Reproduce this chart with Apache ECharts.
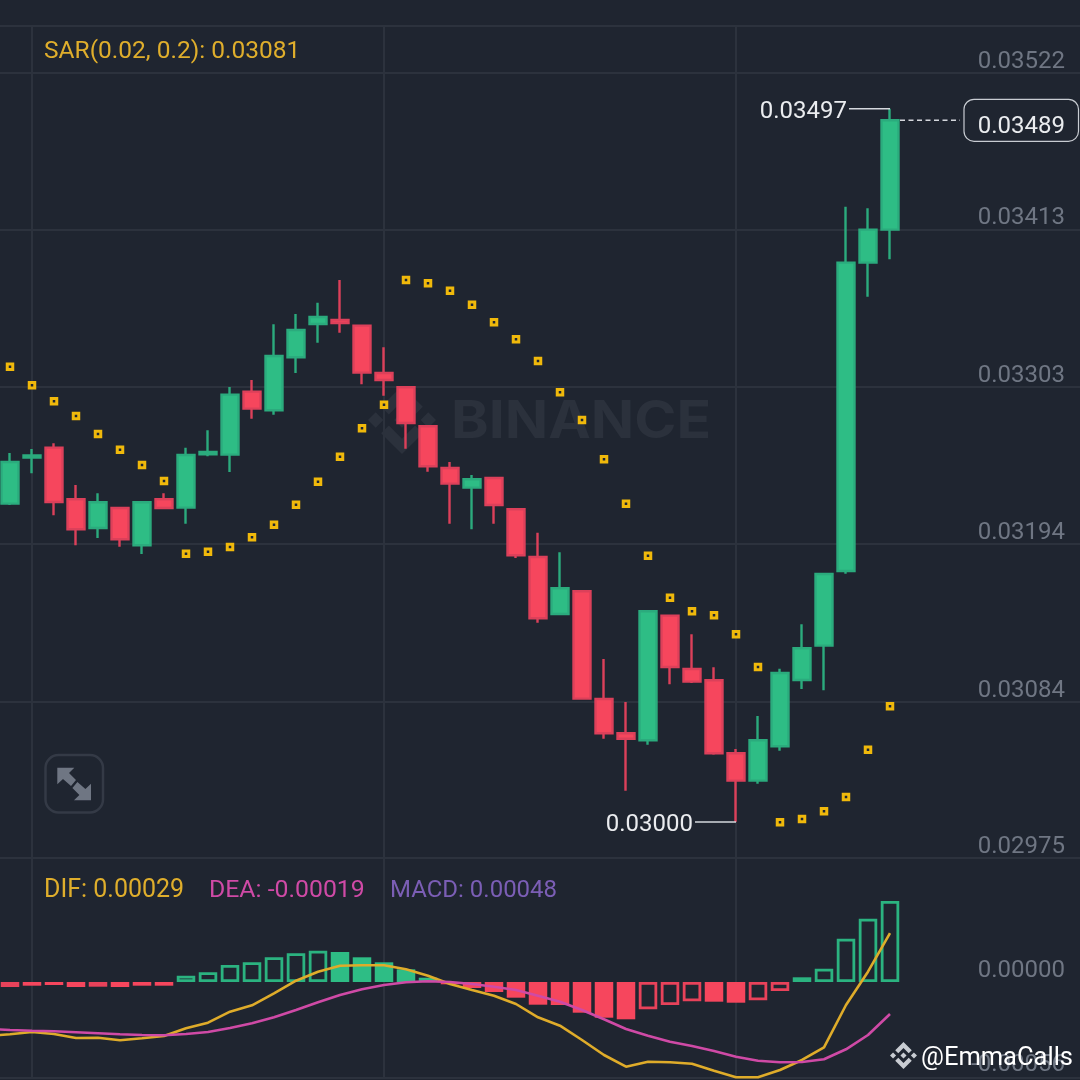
<!DOCTYPE html>
<html><head><meta charset="utf-8">
<style>html,body{margin:0;padding:0;background:#1f2530}#c{width:1080px;height:1080px}</style>
<script src="https://cdn.jsdelivr.net/npm/echarts@6/dist/echarts.min.js"></script>
</head><body><div id="c"></div>
<script>
const opens  = [.0322189,.0325395,.0326091,.0322496,.0320496,.0321890,.0319291,.0322496,.0321910,.0325631,.0325604,.0329993,.0328697,.0332390,.0334711,.0334989,.0334592,.0331296,.0330300,.0327582,.0324677,.0323304,.0323980,.0321799,.0318475,.0314503,.0316085,.0308581,.0306191,.0305703,.0314385,.0310671,.0309884,.0304797,.0302888,.0305285,.0309905,.0312295,.0317500,.0338982,.0341281];
const closes = [.0325095,.0325548,.0322308,.0320405,.0322287,.0319709,.0322287,.0321890,.0325583,.0325792,.0329784,.0328809,.0332481,.0334293,.0335198,.0334780,.0331317,.0330809,.0327812,.0324795,.0323582,.0323889,.0322099,.0318594,.0314204,.0316294,.0308602,.0306191,.0305814,.0314692,.0310810,.0309786,.0304797,.0302888,.0305703,.0310392,.0312114,.0317291,.0338982,.0341281,.0348900];
const lows   = [.0322099,.0324308,.0321381,.0319291,.0319799,.0319193,.0318684,.0321890,.0320796,.0325492,.0324398,.0328112,.0328391,.0331296,.0333408,.0334104,.0330509,.0329715,.0326022,.0324419,.0320796,.0320405,.0320796,.0318406,.0313897,.0314503,.0308581,.0305814,.0302191,.0305396,.0309605,.0309696,.0304700,.0300000,.0302679,.0304978,.0309277,.0309187,.0317312,.0336613,.0339219];
const highs  = [.0325722,.0326001,.0326398,.0323492,.0322914,.0321910,.0322377,.0322914,.0326091,.0327304,.0330321,.0330809,.0334690,.0335407,.0336195,.0337777,.0334641,.0333087,.0330321,.0327603,.0325095,.0324189,.0323980,.0321820,.0320168,.0318803,.0316106,.0311368,.0308372,.0314713,.0314434,.0313089,.0310789,.0305097,.0307396,.0310692,.0313786,.0317381,.0342884,.0342773,.0349700];
const sarValues = [.0331735,.0330439,.0329324,.0328300,.0327046,.0325952,.0324886,.0323771,.0318705,.0318845,.0319172,.0319848,.0320726,.0322120,.0323722,.0325464,.0327443,.0329087,.0337777,.0337547,.0337031,.0336055,.0334829,.0333645,.0332133,.0329952,.0328021,.0325283,.0322189,.0318566,.0315639,.0314692,.0314413,.0313089,.0310810,.0299989,.0300219,.0300756,.0301752,.0305048,.0308072];
const macdValues = [-.0000296,-.0000219,-.0000178,-.0000296,-.0000279,-.0000296,-.0000219,-.0000219,.0000373,.0000575,.0001007,.0001167,.0001464,.0001701,.0001855,.0001778,.0001464,.0001167,.0000753,.0000255,-.0000136,-.0000356,-.0000593,-.0000930,-.0001345,-.0001363,-.0001819,-.0002116,-.0002210,-.0001618,-.0001363,-.0001144,-.0001167,-.0001227,-.0001084,-.0000533,.0000279,.0000788,.0002566,.0003751,.0004800];
const macdHollow = [1,0,0,0,1,0,0,0,1,1,1,1,1,1,1,0,0,0,0,0,0,0,0,0,0,0,0,0,0,1,1,1,0,0,1,1,1,1,1,1,1];
// DIF and DEA start one bar before the first visible candle, so the lines reach the left edge
const difValues = [-.000320,-.0003099,-.0002963,-.0003082,-.0003319,-.0003301,-.0003455,-.0003336,-.0003200,-.0002744,-.0002412,-.0001760,-.0001381,-.0000670,.0000077,.0000610,.0000966,.0000990,.0000990,.0000753,.0000373,-.0000119,-.0000474,-.0000812,-.0001304,-.0002092,-.0002590,-.0003437,-.0004326,-.0005019,-.0004723,-.0004759,-.0004841,-.0005256,-.0005647,-.0005647,-.0005215,-.0004622,-.0003870,-.0001363,.0000610,.0002900];
const deaValues = [-.0002785,-.0002844,-.0002886,-.0002922,-.0002981,-.0003040,-.0003099,-.0003141,-.0003159,-.0003082,-.0002963,-.0002726,-.0002447,-.0002092,-.0001659,-.0001203,-.0000770,-.0000433,-.0000178,-.0000018,.0000041,0,-.0000119,-.0000279,-.0000474,-.0000812,-.0001167,-.0001659,-.0002210,-.0002785,-.0003182,-.0003538,-.0003793,-.0004089,-.0004427,-.0004664,-.0004759,-.0004741,-.0004581,-.0003988,-.0003141,-.0001900];
const priceTicks = [0.03522,0.03413,0.03303,0.03194,0.03084,0.02975];
const priceRange = [0.02975,0.035547];
const macdTicks = [0,-0.00056];
const macdRange = [-0.000569,0.000735];
const extremes = [[41,0.03497,'0.03497'],[34,0.03000,'0.03000']];
const lastPrice = [[41,0.03489,'0.03489']];
const legendSar = 'SAR(0.02, 0.2): 0.03081';
const legendDif = 'DIF: 0.00029';
const legendDea = 'DEA: -0.00019';
const legendMacd = 'MACD: 0.00048';
const watermarkName = 'BINANCE';
const handle = '@EmmaCalls';
const categories = Array.from({length:51},(_,i)=>String(i));
const verticalLineIndex = [2,18,34];

const BG='#1f2530', GRID='#2c323d', TICK='#6f7683', GREEN='#2ebd85', RED='#f6465d';
const FONT='Roboto';
const logoPath='M16.624 13.9202l2.7175 2.7154-7.353 7.3509-7.353-7.3508 2.7175-2.7164 4.6355 4.6595 4.6356-4.6576zm4.6366-4.6366L24 12l-2.7154 2.7164L18.5682 12l2.6924-2.7164zm-9.272.001l2.7163 2.6914-2.7164 2.7174v-.001L9.2721 12l2.7164-2.7154zm-9.2722-.001L5.4088 12l-2.6914 2.6924L0 12l2.7164-2.7164zM11.9885.0115l7.353 7.329-2.7174 2.7154-4.6356-4.6356-4.6355 4.6595-2.7174-2.7154 7.353-7.353z';

const candleRows=[['-','-','-','-']].concat(opens.map((o,i)=>[o,closes[i],lows[i],highs[i]]));
const sarRows=['-'].concat(sarValues);
const barRows=['-'].concat(macdValues.map((v,i)=>{
  const c=v>=0?GREEN:RED;
  return macdHollow[i]
    ?{value:v,itemStyle:{color:'transparent',borderColor:v>=0?'#2bb380':'#e8425a',borderWidth:2.8}}
    :{value:v,itemStyle:{color:c,borderWidth:0}};
}));
const xBase=(g)=>({type:'category',gridIndex:g,data:categories,boundaryGap:true,
  axisLine:{show:false},axisTick:{show:false,alignWithLabel:true},axisLabel:{show:false},
  splitLine:{show:true,alignWithLabel:true,interval:(i)=>verticalLineIndex.includes(i),lineStyle:{color:GRID,width:2}}});

const decor=(name,z,paths)=>({type:'custom',name,coordinateSystem:'none',data:[[0]],z,silent:true,clip:false,
  renderItem:()=>({type:'group',children:paths})});
const yLabel=(ticks)=>({inside:true,margin:0,customValues:ticks,formatter:v=>v.toFixed(5),color:TICK,fontFamily:FONT,fontSize:24,verticalAlign:'bottom',lineHeight:22});

const option={
  backgroundColor:BG,animation:false,
  grid:[
    {left:-23,top:26,width:1122,height:832,outerBoundsMode:'none',containLabel:false,show:true,borderColor:GRID,borderWidth:2,backgroundColor:'transparent'},
    {left:-23,top:858,width:1122,height:220,outerBoundsMode:'none',containLabel:false,show:true,borderColor:GRID,borderWidth:2,backgroundColor:'transparent'}
  ],
  xAxis:[xBase(0),xBase(1)],
  yAxis:[
    {type:'value',gridIndex:0,position:'right',offset:-34,min:priceRange[0],max:priceRange[1],
     axisLine:{show:false},axisTick:{show:false,customValues:priceTicks},
     axisLabel:yLabel(priceTicks),
     splitLine:{show:true,lineStyle:{color:GRID,width:2}}},
    {type:'value',gridIndex:1,position:'right',offset:-34,min:macdRange[0],max:macdRange[1],
     axisLine:{show:false},axisTick:{show:false,customValues:macdTicks},
     axisLabel:yLabel(macdTicks),
     splitLine:{show:false}}
  ],
  series:[
    decor('Watermark',1,[
      {type:'path',shape:{pathData:logoPath,x:368,y:386,width:68,height:68,layout:'cover'},style:{fill:'#2b313c'}}
    ]),
    {type:'candlestick',name:'Price',xAxisIndex:0,yAxisIndex:0,data:candleRows,barWidth:17.5,
     itemStyle:{color:GREEN,color0:RED,borderColor:'#2bab7d',borderColor0:'#dc405a',borderWidth:2.4}},
    {type:'scatter',name:'SAR',xAxisIndex:0,yAxisIndex:0,data:sarRows,symbol:'rect',symbolSize:5.5,
     itemStyle:{color:'#1f2530',borderColor:'#f0b90b',borderWidth:3,opacity:1},z:3},
    {type:'custom',name:'Extremes',xAxisIndex:0,yAxisIndex:0,data:extremes,encode:{x:0,y:1},z:5,clip:false,
     renderItem:(p,api)=>{
       const pt=api.coord([api.value(0),api.value(1)]);
       return {type:'group',children:[
         {type:'line',shape:{x1:pt[0]-41,y1:pt[1],x2:pt[0],y2:pt[1]},style:{stroke:'#d5d8dd',lineWidth:1.5}},
         {type:'text',x:pt[0]-43,y:pt[1]+3,style:{text:extremes[p.dataIndex][2],fill:'#eaecef',font:'24px '+FONT,textAlign:'right',textVerticalAlign:'middle'}}
       ]};
     }},
    {type:'custom',name:'Last price',xAxisIndex:0,yAxisIndex:0,data:lastPrice,encode:{x:0,y:1},z:5,clip:false,
     renderItem:(p,api)=>{
       const pt=api.coord([api.value(0),api.value(1)]);
       return {type:'group',children:[
         {type:'line',shape:{x1:pt[0]+10,y1:pt[1],x2:960,y2:pt[1]},style:{stroke:'#d5d8dd',lineWidth:1.5,lineDash:[5,3.5]}},
         {type:'rect',shape:{x:964,y:pt[1]-21,width:114.5,height:42,r:10},style:{fill:BG,stroke:'#c8ccd2',lineWidth:1.2}},
         {type:'text',x:1065,y:pt[1]+7,style:{text:lastPrice[p.dataIndex][2],fill:'#eaecef',font:'24px '+FONT,textAlign:'right',textVerticalAlign:'middle'}}
       ]};
     }},
    {type:'bar',name:'MACD',xAxisIndex:1,yAxisIndex:1,data:barRows,barWidth:18.5,z:2},
    {type:'line',name:'DIF',xAxisIndex:1,yAxisIndex:1,data:difValues,showSymbol:false,symbol:'none',lineStyle:{color:'#dfac2a',width:2.6},z:3},
    {type:'line',name:'DEA',xAxisIndex:1,yAxisIndex:1,data:deaValues,showSymbol:false,symbol:'none',lineStyle:{color:'#cf4aa6',width:2.6},z:4},
    decor('Badges',20,[
      {type:'rect',shape:{x:45.5,y:755,width:57.5,height:57.5,r:13},style:{fill:BG,stroke:'#343a46',lineWidth:2.5}},
      {type:'path',shape:{pathData:'M57.3 767.7L74.3 767.7L69 773L76 780L71 786L63 779L57.3 784.3Z M91 800.3L74 800.3L79.4 795L72.4 788L77.4 782L85.4 789L91 783.7Z',x:57.3,y:767.7,width:33.7,height:32.6,layout:'cover'},style:{fill:'#6f7683'}},
      {type:'path',shape:{pathData:logoPath,x:890,y:1042,width:27,height:27,layout:'cover'},style:{fill:'#c8ccd2'}}
    ])
  ],
  graphic:[
    {type:'text',x:44,y:52,z:6,style:{text:legendSar,fill:'#dfae2c',font:'24.5px '+FONT,textVerticalAlign:'middle'}},
    {type:'text',x:44,y:891,z:6,style:{text:legendDif,fill:'#dfae2c',font:'25px '+FONT,textVerticalAlign:'middle'}},
    {type:'text',x:209,y:891,z:6,style:{text:legendDea,fill:'#cf4aa6',font:'24.8px '+FONT,textVerticalAlign:'middle'}},
    {type:'text',x:390,y:891,z:6,style:{text:legendMacd,fill:'#7b5eb5',font:'24px '+FONT,textVerticalAlign:'middle'}},
    {type:'text',x:451,y:422,z:1,scaleX:1.097,style:{text:watermarkName,fill:'#2b313c',font:'bold 52px Inter',textVerticalAlign:'middle'}},
    {type:'text',x:921,y:1059,z:20,style:{text:handle,fill:'#ffffff',font:'25.5px '+FONT,textVerticalAlign:'middle'}}
  ]
};
const chart=echarts.init(document.getElementById('c'),null,{renderer:'canvas',width:1080,height:1080});
chart.setOption(option);
</script></body></html>
